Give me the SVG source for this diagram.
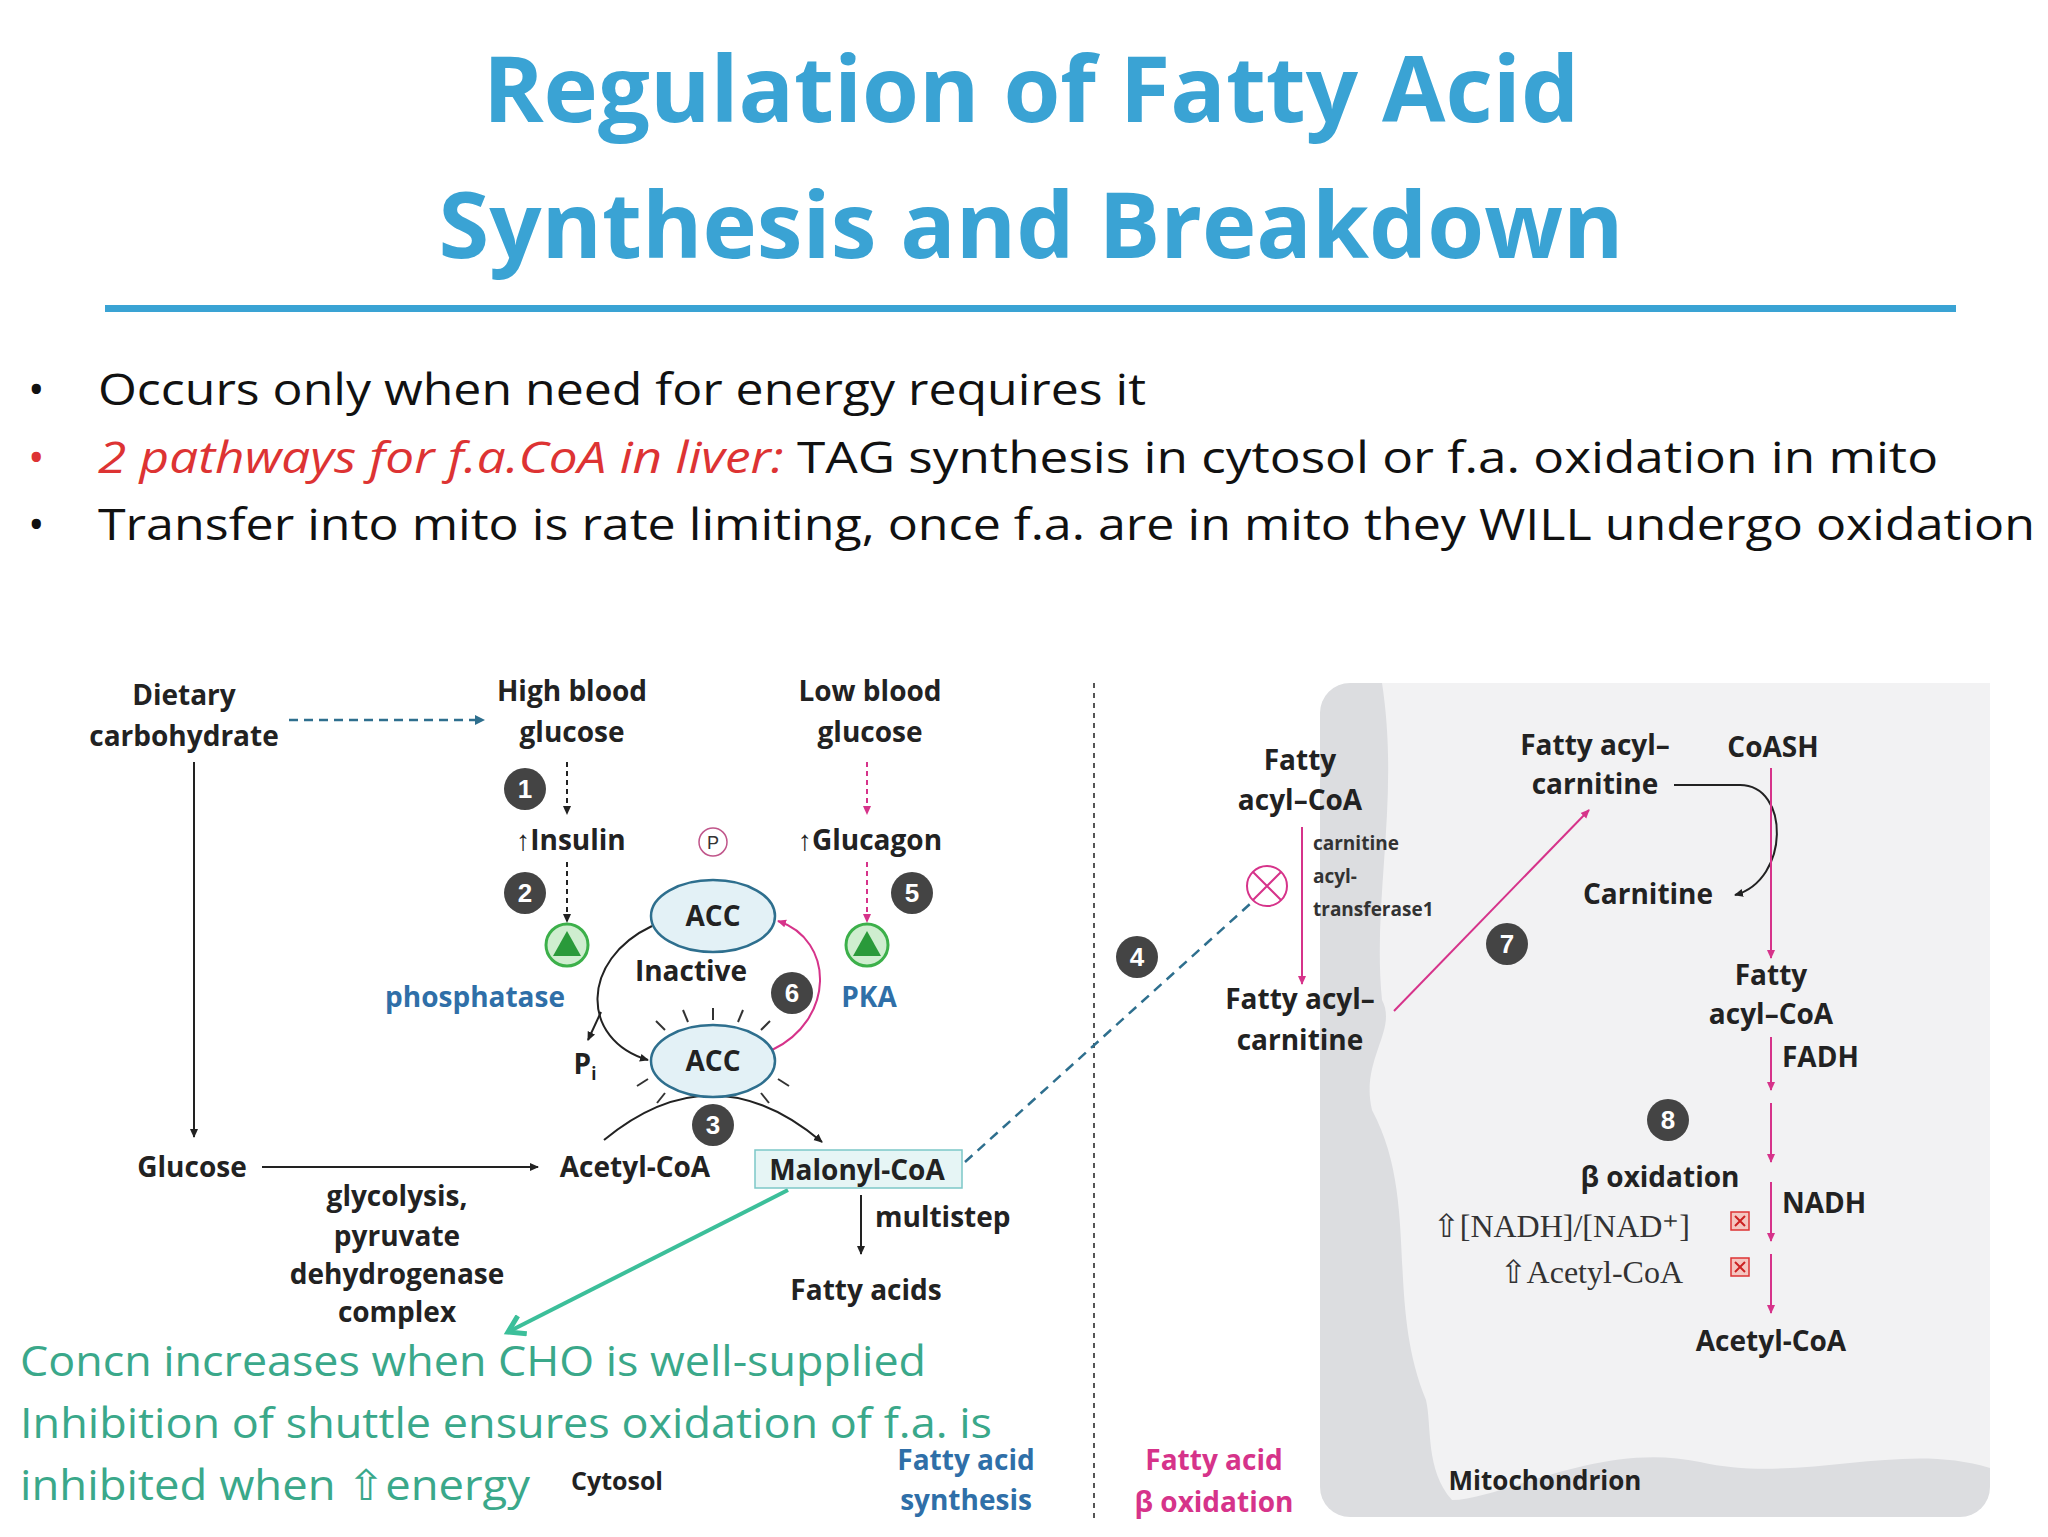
<svg xmlns="http://www.w3.org/2000/svg" width="2048" height="1537" viewBox="0 0 2048 1537">
<style>
.t{font-family:"Open Sans","Liberation Sans",sans-serif;font-weight:bold;font-size:28px;fill:#222;text-anchor:middle}
.st{text-anchor:start}
.blue{fill:#2f6fa8}
.pink{fill:#d6338a}
.b{font-family:"Open Sans","Liberation Sans",sans-serif;font-size:44px;fill:#111}
.g{font-family:"Open Sans","Liberation Sans",sans-serif;font-size:42px;fill:#3aa88a}
.s{font-family:"Liberation Serif",serif;font-size:32px;fill:#333;text-anchor:end}
.num circle{fill:#444}
.num text{font-family:"Liberation Sans",sans-serif;font-weight:bold;font-size:26px;fill:#fff;text-anchor:middle}
.blk{stroke:#222;stroke-width:2;fill:none}
.pk{stroke:#d6338a;stroke-width:2;fill:none}
</style>
<defs>
<marker id="ab" markerWidth="10" markerHeight="10" refX="8" refY="5" orient="auto" markerUnits="userSpaceOnUse"><path d="M0,1 L9,5 L0,9z" fill="#222"/></marker>
<marker id="ap" markerWidth="10" markerHeight="10" refX="8" refY="5" orient="auto" markerUnits="userSpaceOnUse"><path d="M0,1 L9,5 L0,9z" fill="#d6338a"/></marker>
<marker id="at" markerWidth="12" markerHeight="12" refX="9" refY="6" orient="auto" markerUnits="userSpaceOnUse"><path d="M0,1 L10,6 L0,11z" fill="#2e6f8e"/></marker>
<marker id="ag" markerWidth="24" markerHeight="24" refX="18" refY="12" orient="auto" markerUnits="userSpaceOnUse"><path d="M2,2 L18,12 L2,22" fill="none" stroke="#3cbf9a" stroke-width="5"/></marker>
</defs>
<rect width="2048" height="1537" fill="#fff"/>
<g id="title" font-family="Open Sans, Liberation Sans, sans-serif" font-weight="bold" font-size="92" fill="#3aa3d4" text-anchor="middle">
<text x="1031" y="122">Regulation of Fatty Acid</text>
<text x="1031" y="258">Synthesis and Breakdown</text>
</g>
<rect x="105" y="305" width="1851" height="7" fill="#3aa3d4"/>
<g id="bullets">
<text class="b" x="28" y="405">•</text><text class="b" x="98" y="405" textLength="1048" lengthAdjust="spacingAndGlyphs">Occurs only when need for energy requires it</text>
<text class="b" x="28" y="473" style="fill:#d33">•</text><text class="b" x="98" y="473" textLength="1840" lengthAdjust="spacingAndGlyphs"><tspan style="fill:#d33;font-style:italic">2 pathways for f.a.CoA in liver: </tspan>TAG synthesis in cytosol or f.a. oxidation in mito</text>
<text class="b" x="28" y="540">•</text><text class="b" x="98" y="540" textLength="1937" lengthAdjust="spacingAndGlyphs">Transfer into mito is rate limiting, once f.a. are in mito they WILL undergo oxidation</text>
</g>
<g id="mito">
<rect x="1320" y="683" width="670" height="834" rx="30" fill="#dcdde0"/>
<path d="M1382 683 L1990 683 L1990 1468 C1900 1440 1800 1485 1700 1462 C1600 1440 1500 1500 1452 1500 C1425 1470 1432 1425 1426 1400 C1385 1300 1420 1200 1372 1110 C1360 1060 1398 1030 1382 1000 C1372 900 1400 800 1382 683 Z" fill="#f2f2f3"/>
</g>
<line x1="1094" y1="683" x2="1094" y2="1523" stroke="#555" stroke-width="2" stroke-dasharray="5,5"/>
<g id="connectors">
<line x1="289" y1="720" x2="484" y2="720" stroke="#2e6f8e" stroke-width="2.5" stroke-dasharray="9,6" marker-end="url(#at)"/>
<line x1="567" y1="762" x2="567" y2="814" class="blk" stroke-dasharray="5,4" marker-end="url(#ab)"/>
<line x1="567" y1="862" x2="567" y2="922" class="blk" stroke-dasharray="5,4" marker-end="url(#ab)"/>
<line x1="867" y1="762" x2="867" y2="814" class="pk" stroke-dasharray="5,4" marker-end="url(#ap)"/>
<line x1="867" y1="862" x2="867" y2="922" class="pk" stroke-dasharray="5,4" marker-end="url(#ap)"/>
<line x1="194" y1="762" x2="194" y2="1137" class="blk" marker-end="url(#ab)"/>
<line x1="262" y1="1167" x2="538" y2="1167" class="blk" marker-end="url(#ab)"/>
<path d="M652 926 C580 960 580 1040 648 1060" class="blk" stroke-width="2.5" marker-end="url(#ab)"/>
<path d="M601 1012 L588 1040" class="blk" marker-end="url(#ab)"/>
<path d="M772 1050 C835 1020 835 940 778 921" class="pk" stroke-width="2.5" marker-end="url(#ap)"/>
<path d="M604 1140 Q713 1050 822 1142" class="blk" stroke-width="2.5" marker-end="url(#ab)"/>
<line x1="713" y1="893" x2="713" y2="879" class="pk"/>
<line x1="861" y1="1195" x2="861" y2="1254" class="blk" marker-end="url(#ab)"/>
<line x1="788" y1="1190" x2="508" y2="1332" stroke="#3cbf9a" stroke-width="4" marker-end="url(#ag)"/>
<line x1="965" y1="1162" x2="1250" y2="904" stroke="#2e6f8e" stroke-width="2.5" stroke-dasharray="10,7"/>
<line x1="1302" y1="827" x2="1302" y2="984" class="pk" marker-end="url(#ap)"/>
<line x1="1394" y1="1011" x2="1589" y2="810" class="pk" stroke-width="2.5" marker-end="url(#ap)"/>
<path d="M1674 785 L1740 785 C1790 785 1790 880 1735 895" class="blk" stroke-width="2.5" marker-end="url(#ab)"/>
<line x1="1771" y1="768" x2="1771" y2="958" class="pk" marker-end="url(#ap)"/>
<line x1="1771" y1="1037" x2="1771" y2="1090" class="pk" marker-end="url(#ap)"/>
<line x1="1771" y1="1103" x2="1771" y2="1162" class="pk" marker-end="url(#ap)"/>
<line x1="1771" y1="1182" x2="1771" y2="1241" class="pk" marker-end="url(#ap)"/>
<line x1="1771" y1="1254" x2="1771" y2="1313" class="pk" marker-end="url(#ap)"/>
</g>
<g id="n-dietary"><text class="t" x="184" y="705">Dietary</text><text class="t" x="184" y="746">carbohydrate</text></g>
<g id="n-high"><text class="t" x="572" y="701">High blood</text><text class="t" x="572" y="742">glucose</text></g>
<g id="n-low"><text class="t" x="870" y="701">Low blood</text><text class="t" x="870" y="742">glucose</text></g>
<g id="n-insulin"><text class="t" x="571" y="850">↑Insulin</text></g>
<g id="n-glucagon"><text class="t" x="870" y="850">↑Glucagon</text></g>
<g class="num" id="n1"><circle cx="525" cy="789" r="21"/><text x="525" y="798">1</text></g>
<g class="num" id="n2"><circle cx="525" cy="893" r="21"/><text x="525" y="902">2</text></g>
<g class="num" id="n5"><circle cx="912" cy="893" r="21"/><text x="912" y="902">5</text></g>
<g class="num" id="n6"><circle cx="792" cy="993" r="21"/><text x="792" y="1002">6</text></g>
<g class="num" id="n3"><circle cx="713" cy="1125" r="21"/><text x="713" y="1134">3</text></g>
<g class="num" id="n4"><circle cx="1137" cy="957" r="21"/><text x="1137" y="966">4</text></g>
<g class="num" id="n7"><circle cx="1507" cy="944" r="21"/><text x="1507" y="953">7</text></g>
<g class="num" id="n8"><circle cx="1668" cy="1120" r="21"/><text x="1668" y="1129">8</text></g>
<g id="n-phos"><circle cx="567" cy="945" r="21" fill="#cfeecf" stroke="#3cb04a" stroke-width="3"/><path d="M567 931 L581 956 L553 956Z" fill="#2a9a3a"/><text class="t blue" x="475" y="1007">phosphatase</text></g>
<g id="n-pka"><circle cx="867" cy="945" r="21" fill="#cfeecf" stroke="#3cb04a" stroke-width="3"/><path d="M867 931 L881 956 L853 956Z" fill="#2a9a3a"/><text class="t blue" x="869" y="1007">PKA</text></g>
<g id="n-p"><circle cx="713" cy="842" r="14" fill="#fff" stroke="#c0558a" stroke-width="1.5"/><text x="713" y="849" font-family="Liberation Sans,sans-serif" font-size="18" text-anchor="middle" fill="#333">P</text></g>
<g id="n-acc-top"><ellipse cx="713" cy="916" rx="62" ry="36" fill="#e3f1f6" stroke="#2e6f8e" stroke-width="2.5"/><text class="t" x="713" y="926">ACC</text></g>
<g id="n-inactive"><text class="t" x="691" y="981">Inactive</text></g>
<g id="n-acc-bot"><ellipse cx="713" cy="1061" rx="62" ry="36" fill="#e3f1f6" stroke="#2e6f8e" stroke-width="2.5"/><text class="t" x="713" y="1071">ACC</text>
<g stroke="#333" stroke-width="2"><line x1="713" y1="1020" x2="713" y2="1008"/><line x1="688" y1="1022" x2="683" y2="1010"/><line x1="738" y1="1022" x2="743" y2="1010"/><line x1="665" y1="1030" x2="656" y2="1021"/><line x1="761" y1="1030" x2="770" y2="1021"/><line x1="648" y1="1079" x2="637" y2="1086"/><line x1="778" y1="1079" x2="789" y2="1086"/><line x1="665" y1="1093" x2="657" y2="1103"/><line x1="761" y1="1093" x2="769" y2="1103"/></g></g>
<g id="n-pi"><text class="t" x="585" y="1074">P<tspan font-size="17" dy="6">i</tspan></text></g>
<g id="n-glucose"><text class="t" x="192" y="1177">Glucose</text></g>
<g id="n-acetyl"><text class="t" x="635" y="1177">Acetyl-CoA</text></g>
<g id="n-malonyl"><rect x="755" y="1150" width="207" height="38" fill="#e6f5f5" stroke="#7cc7c7" stroke-width="1.5"/><text class="t" x="857" y="1180">Malonyl-CoA</text></g>
<g id="n-glyco"><text class="t" x="397" y="1206">glycolysis,</text><text class="t" x="397" y="1246">pyruvate</text><text class="t" x="397" y="1284">dehydrogenase</text><text class="t" x="397" y="1322">complex</text></g>
<g id="n-multistep"><text class="t st" x="875" y="1227">multistep</text></g>
<g id="n-fa"><text class="t" x="866" y="1300">Fatty acids</text></g>
<g id="notes"><text class="g" x="20" y="1376" textLength="906" lengthAdjust="spacingAndGlyphs">Concn increases when CHO is well-supplied</text><text class="g" x="20" y="1438" textLength="972" lengthAdjust="spacingAndGlyphs">Inhibition of shuttle ensures oxidation of f.a. is</text><text class="g" x="20" y="1500" textLength="510" lengthAdjust="spacingAndGlyphs">inhibited when ⇧energy</text></g>
<g id="n-cytosol"><text class="t" x="617" y="1490" style="font-size:25px">Cytosol</text></g>
<g id="n-fas"><text class="t blue" x="966" y="1470">Fatty acid</text><text class="t blue" x="966" y="1510">synthesis</text></g>
<g id="n-fbo"><text class="t pink" x="1214" y="1470">Fatty acid</text><text class="t pink" x="1214" y="1512">β oxidation</text></g>
<g id="n-inhib"><circle cx="1267" cy="886" r="20" fill="#fff" stroke="#d6338a" stroke-width="2"/><path d="M1253 872 L1281 900 M1281 872 L1253 900" stroke="#d6338a" stroke-width="2"/></g>
<g id="n-faco1"><text class="t" x="1300" y="770">Fatty</text><text class="t" x="1300" y="810">acyl–CoA</text></g>
<g id="n-cat"><g font-family="Open Sans,Liberation Sans,sans-serif" font-weight="bold" font-size="19" fill="#333"><text x="1313" y="850">carnitine</text><text x="1313" y="883">acyl-</text><text x="1313" y="916">transferase1</text></g></g>
<g id="n-fac1"><text class="t" x="1300" y="1009">Fatty acyl–</text><text class="t" x="1300" y="1050">carnitine</text></g>
<g id="n-fac2"><text class="t" x="1595" y="755">Fatty acyl–</text><text class="t" x="1595" y="794">carnitine</text></g>
<g id="n-coash"><text class="t" x="1773" y="757">CoASH</text></g>
<g id="n-carn"><text class="t" x="1648" y="904">Carnitine</text></g>
<g id="n-faco2"><text class="t" x="1771" y="985">Fatty</text><text class="t" x="1771" y="1024">acyl–CoA</text></g>
<g id="n-fadh"><text class="t st" x="1782" y="1067">FADH</text></g>
<g id="n-box"><text class="t" x="1660" y="1187">β oxidation</text><text class="t st" x="1782" y="1213">NADH</text></g>
<g id="n-reg"><text class="s" x="1690" y="1237">⇧[NADH]/[NAD⁺]</text><text class="s" x="1683" y="1283">⇧Acetyl-CoA</text>
<g fill="#f4c6c0" stroke="#d33" stroke-width="1.5"><rect x="1731" y="1212" width="18" height="18"/><rect x="1731" y="1258" width="18" height="18"/></g>
<g stroke="#c22" stroke-width="2"><path d="M1735 1216 L1745 1226 M1745 1216 L1735 1226 M1735 1262 L1745 1272 M1745 1262 L1735 1272"/></g></g>
<g id="n-acetyl2"><text class="t" x="1771" y="1351">Acetyl-CoA</text></g>
<g id="n-mito"><text class="t" x="1545" y="1490" style="font-size:26px">Mitochondrion</text></g>
</svg>
